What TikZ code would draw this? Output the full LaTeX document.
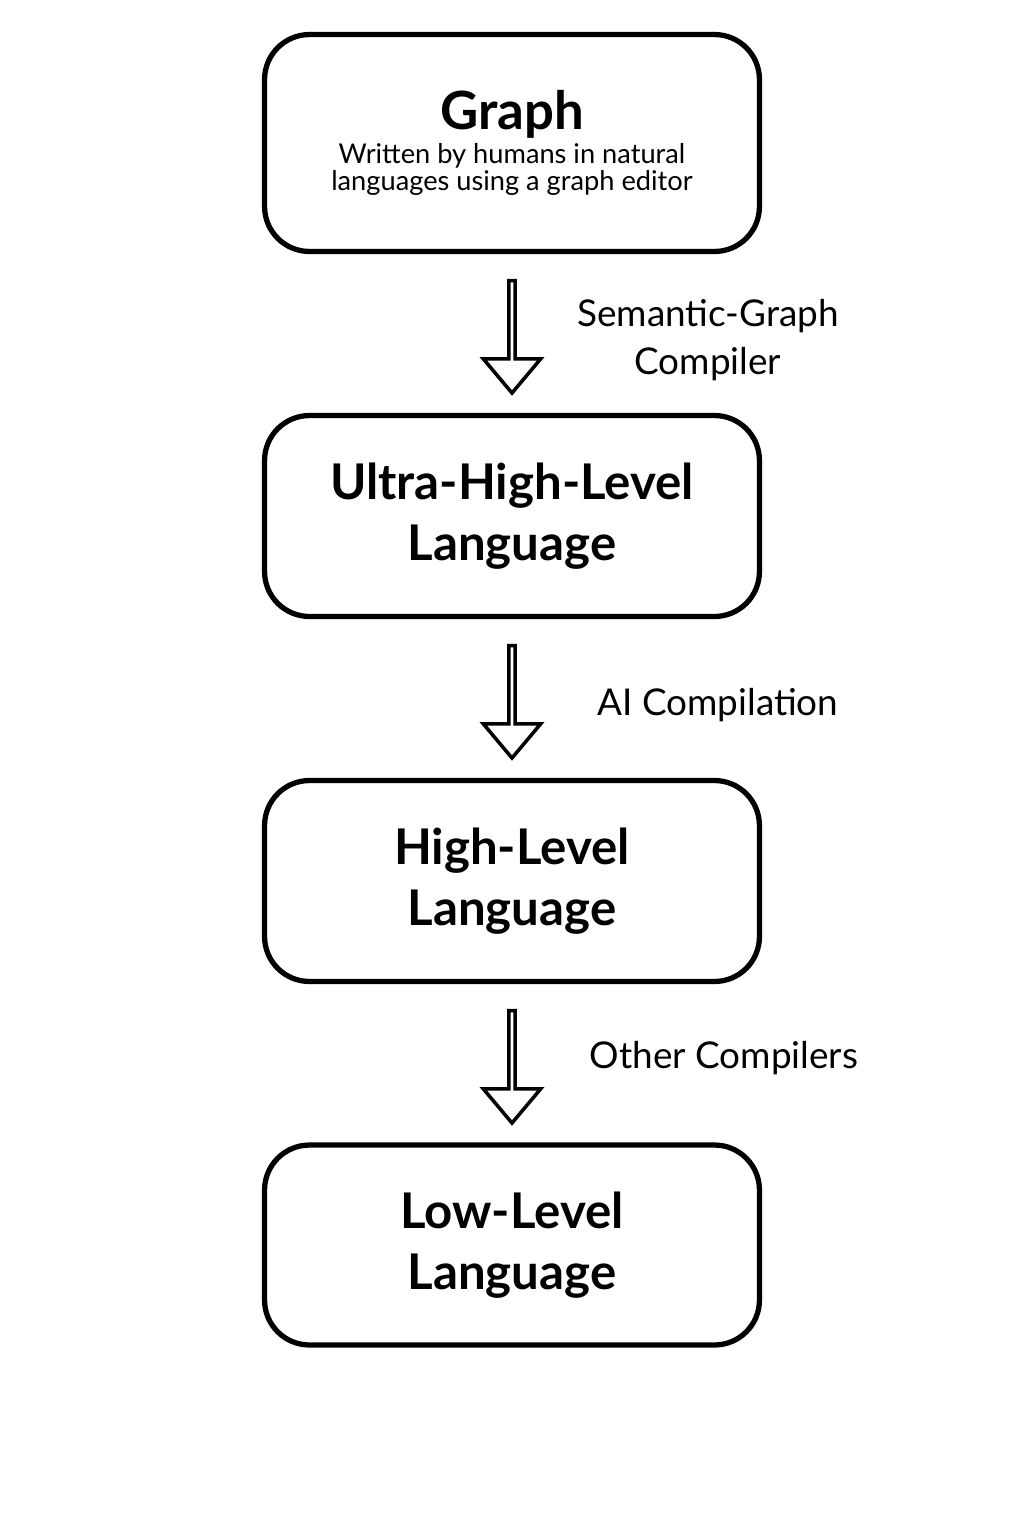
\documentclass[tikz,border=0pt]{standalone}
\usepackage{fontspec}
\setmainfont{Lato}
\usetikzlibrary{shapes.arrows,positioning}
\newcommand{\bigtitle}{\fontsize{30}{36}\selectfont\bfseries}
\newcommand{\subtext}{\fontsize{15.5}{20}\selectfont\mdseries}
\tikzset{
  stage/.style={draw,line width=3pt,rounded corners=0.9cm,minimum width=9.9cm,align=center},
  flow/.style={single arrow,draw,line width=2pt,shape border rotate=270,minimum height=2.25cm,minimum width=1.15cm,single arrow head extend=0.3cm,single arrow tip angle=80,inner sep=0pt},
  note/.style={font=\fontsize{21}{27}\selectfont,align=center},
  title/.style={font=\fontsize{28}{35}\selectfont\bfseries}
}
\begin{document}
\begin{tikzpicture}[x=0.02cm,y=-0.02cm]
\useasboundingbox (0,0) rectangle (1024,1536);
\node[stage,minimum height=4.34cm] (graph) at (512,143) {\bigtitle Graph\\[2pt]
  \subtext Written by humans in natural\\\subtext languages using a graph editor};
\node[stage,minimum height=4.02cm,title] (ultra) at (512,516) {Ultra-High-Level\\Language};
\node[stage,minimum height=4.02cm,title] (high) at (512,881) {High-Level\\Language};
\node[stage,minimum height=4.0cm,title] (low) at (512,1245) {Low-Level\\Language};
\node[flow] (a1) at (512,335) {};
\node[flow] (a2) at (512,700) {};
\node[flow] (a3) at (512,1065) {};
\node[note] (l1) at (708,340) {Semantic-Graph\\Compiler};
\node[note] (l2) at (718,705) {AI Compilation};
\node[note] (l3) at (724,1058) {Other Compilers};
\end{tikzpicture}
\end{document}
